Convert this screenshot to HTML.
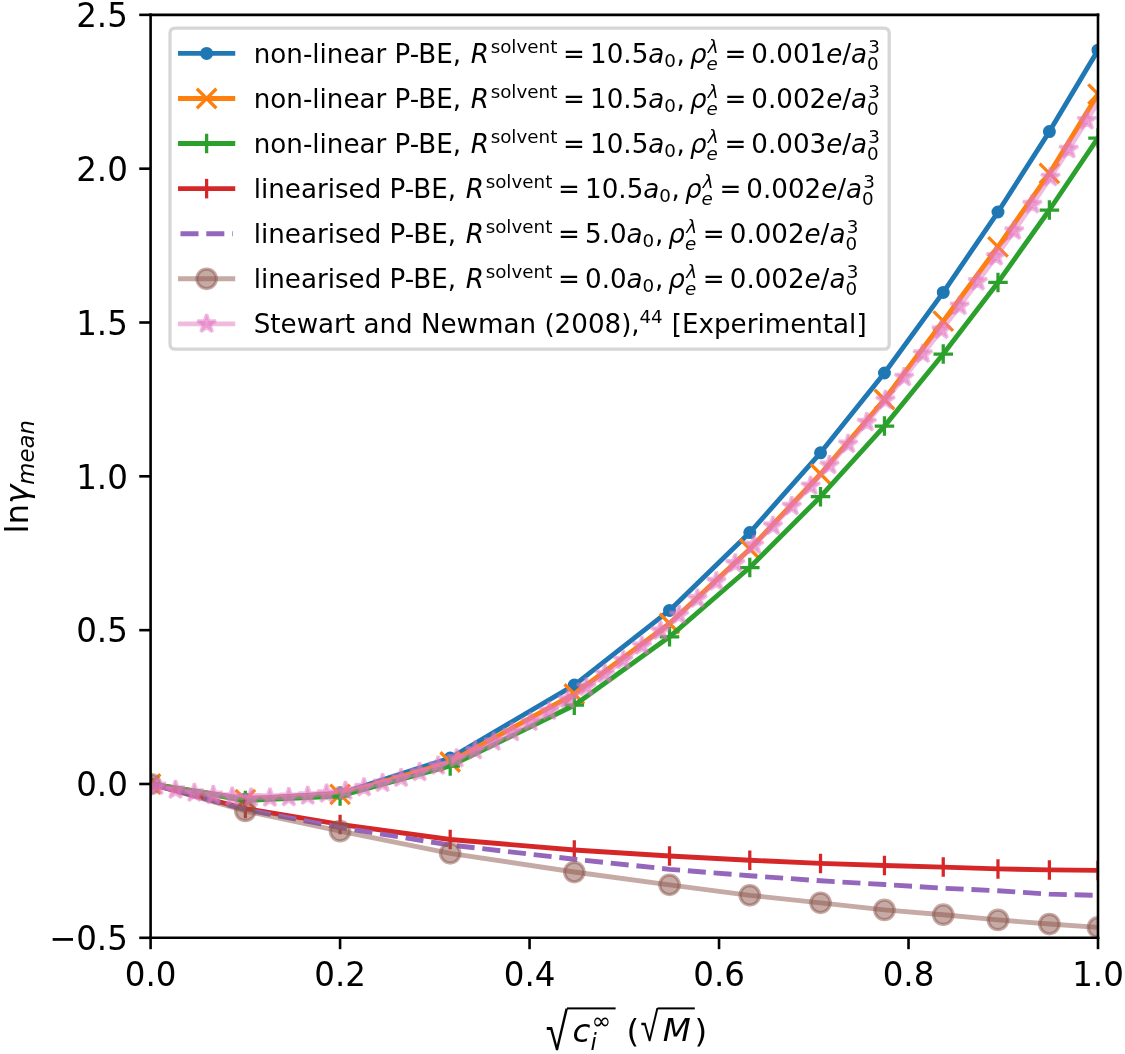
<!DOCTYPE html>
<html><head><meta charset="utf-8"><title>plot</title>
<style>html,body{margin:0;padding:0;background:#fff;}svg{display:block;}svg text{white-space:pre;}</style>
</head><body>
<svg width="1125" height="1054" viewBox="0 0 1125 1054">
<defs>
<style type="text/css">*{stroke-linejoin: round; stroke-linecap: butt}</style>
</defs>
<g id="figure_1">
<g id="patch_1">
<path d="M 0 1054  L 1125 1054  L 1125 0  L 0 0  z " style="fill: #ffffff" />
</g>
<g id="axes_1">
<g id="patch_2">
<path d="M 150.6 937.8  L 1098 937.8  L 1098 14.85  L 150.6 14.85  z " style="fill: #ffffff" />
</g>
<g id="matplotlib.axis_1">
<g id="xtick_1">
<g id="line2d_1">
<g>
<path d="M 0 0  L 0 11.375  " transform="translate(150.6 937.8)" style="stroke: #000000; stroke-width: 2.6" /></g>
</g>
<g id="text_1">
<text style="font-size: 32.5px; font-family: 'DejaVu Sans', 'Liberation Sans', sans-serif; text-anchor: middle" x="150.6" y="985.244922" transform="matrix(1 0 0 1.0380 0 -36.8393)">0.0</text>
</g>
</g>
<g id="xtick_2">
<g id="line2d_2">
<g>
<path d="M 0 0  L 0 11.375  " transform="translate(340.08 937.8)" style="stroke: #000000; stroke-width: 2.6" /></g>
</g>
<g id="text_2">
<text style="font-size: 32.5px; font-family: 'DejaVu Sans', 'Liberation Sans', sans-serif; text-anchor: middle" x="340.08" y="985.244922" transform="matrix(1 0 0 1.0380 0 -36.8393)">0.2</text>
</g>
</g>
<g id="xtick_3">
<g id="line2d_3">
<g>
<path d="M 0 0  L 0 11.375  " transform="translate(529.56 937.8)" style="stroke: #000000; stroke-width: 2.6" /></g>
</g>
<g id="text_3">
<text style="font-size: 32.5px; font-family: 'DejaVu Sans', 'Liberation Sans', sans-serif; text-anchor: middle" x="529.56" y="985.244922" transform="matrix(1 0 0 1.0380 0 -36.8393)">0.4</text>
</g>
</g>
<g id="xtick_4">
<g id="line2d_4">
<g>
<path d="M 0 0  L 0 11.375  " transform="translate(719.04 937.8)" style="stroke: #000000; stroke-width: 2.6" /></g>
</g>
<g id="text_4">
<text style="font-size: 32.5px; font-family: 'DejaVu Sans', 'Liberation Sans', sans-serif; text-anchor: middle" x="719.04" y="985.244922" transform="matrix(1 0 0 1.0380 0 -36.8393)">0.6</text>
</g>
</g>
<g id="xtick_5">
<g id="line2d_5">
<g>
<path d="M 0 0  L 0 11.375  " transform="translate(908.52 937.8)" style="stroke: #000000; stroke-width: 2.6" /></g>
</g>
<g id="text_5">
<text style="font-size: 32.5px; font-family: 'DejaVu Sans', 'Liberation Sans', sans-serif; text-anchor: middle" x="908.52" y="985.244922" transform="matrix(1 0 0 1.0380 0 -36.8393)">0.8</text>
</g>
</g>
<g id="xtick_6">
<g id="line2d_6">
<g>
<path d="M 0 0  L 0 11.375  " transform="translate(1098 937.8)" style="stroke: #000000; stroke-width: 2.6" /></g>
</g>
<g id="text_6">
<text style="font-size: 32.5px; font-family: 'DejaVu Sans', 'Liberation Sans', sans-serif; text-anchor: middle" x="1098" y="985.244922" transform="matrix(1 0 0 1.0380 0 -36.8393)">1.0</text>
</g>
</g>
<g id="text_7">
<g>
<text transform="translate(545.8 1049.6) scale(0.771 1)" style="font-size:52.6px;font-family:'Liberation Sans',sans-serif">√</text>
<rect x="567" y="1007.4" width="48.6" height="2.0" />
<text x="572.5" y="1041.6" style="font-style:oblique;font-size:32.5px;font-family:'DejaVu Sans',sans-serif">c</text>
<text x="591.5" y="1029.3" style="font-size:23.5px;font-family:'DejaVu Sans',sans-serif">∞</text>
<text x="590.4" y="1050.2" style="font-style:oblique;font-size:22.75px;font-family:'DejaVu Sans',sans-serif">i</text>
<text x="626.5" y="1041.8" style="font-size:32.5px;font-family:'DejaVu Sans',sans-serif">(</text>
<text transform="translate(640.4 1040.9) scale(0.789 1)" style="font-size:41.6px;font-family:'Liberation Sans',sans-serif">√</text>
<rect x="657.5" y="1007.4" width="37.3" height="2.0" />
<text x="662.7" y="1041.4" style="font-style:oblique;font-size:32.5px;font-family:'DejaVu Sans',sans-serif">M</text>
<text x="694.6" y="1041.8" style="font-size:32.5px;font-family:'DejaVu Sans',sans-serif">)</text>
</g></g>
</g>
<g id="matplotlib.axis_2">
<g id="ytick_1">
<g id="line2d_7">
<g>
<path d="M 0 0  L -11.375 0  " transform="translate(150.6 937.8)" style="stroke: #000000; stroke-width: 2.6" /></g>
</g>
<g id="text_8">
<text style="font-size: 32.5px; font-family: 'DejaVu Sans', 'Liberation Sans', sans-serif; text-anchor: end" x="127.85" y="950.147461" transform="matrix(1 0 0 1.0380 0 -36.1056)">−0.5</text>
</g>
</g>
<g id="ytick_2">
<g id="line2d_8">
<g>
<path d="M 0 0  L -11.375 0  " transform="translate(150.6 783.975)" style="stroke: #000000; stroke-width: 2.6" /></g>
</g>
<g id="text_9">
<text style="font-size: 32.5px; font-family: 'DejaVu Sans', 'Liberation Sans', sans-serif; text-anchor: end" x="127.85" y="796.322461" transform="matrix(1 0 0 1.0380 0 -30.2603)">0.0</text>
</g>
</g>
<g id="ytick_3">
<g id="line2d_9">
<g>
<path d="M 0 0  L -11.375 0  " transform="translate(150.6 630.15)" style="stroke: #000000; stroke-width: 2.6" /></g>
</g>
<g id="text_10">
<text style="font-size: 32.5px; font-family: 'DejaVu Sans', 'Liberation Sans', sans-serif; text-anchor: end" x="127.85" y="642.497461" transform="matrix(1 0 0 1.0380 0 -24.4149)">0.5</text>
</g>
</g>
<g id="ytick_4">
<g id="line2d_10">
<g>
<path d="M 0 0  L -11.375 0  " transform="translate(150.6 476.325)" style="stroke: #000000; stroke-width: 2.6" /></g>
</g>
<g id="text_11">
<text style="font-size: 32.5px; font-family: 'DejaVu Sans', 'Liberation Sans', sans-serif; text-anchor: end" x="127.85" y="488.672461" transform="matrix(1 0 0 1.0380 0 -18.5696)">1.0</text>
</g>
</g>
<g id="ytick_5">
<g id="line2d_11">
<g>
<path d="M 0 0  L -11.375 0  " transform="translate(150.6 322.5)" style="stroke: #000000; stroke-width: 2.6" /></g>
</g>
<g id="text_12">
<text style="font-size: 32.5px; font-family: 'DejaVu Sans', 'Liberation Sans', sans-serif; text-anchor: end" x="127.85" y="334.847461" transform="matrix(1 0 0 1.0380 0 -12.7242)">1.5</text>
</g>
</g>
<g id="ytick_6">
<g id="line2d_12">
<g>
<path d="M 0 0  L -11.375 0  " transform="translate(150.6 168.675)" style="stroke: #000000; stroke-width: 2.6" /></g>
</g>
<g id="text_13">
<text style="font-size: 32.5px; font-family: 'DejaVu Sans', 'Liberation Sans', sans-serif; text-anchor: end" x="127.85" y="181.022461" transform="matrix(1 0 0 1.0380 0 -6.8789)">2.0</text>
</g>
</g>
<g id="ytick_7">
<g id="line2d_13">
<g>
<path d="M 0 0  L -11.375 0  " transform="translate(150.6 14.85)" style="stroke: #000000; stroke-width: 2.6" /></g>
</g>
<g id="text_14">
<text style="font-size: 32.5px; font-family: 'DejaVu Sans', 'Liberation Sans', sans-serif; text-anchor: end" x="127.85" y="27.197461" transform="matrix(1 0 0 1.0380 0 -1.0335)">2.5</text>
</g>
</g>
<g id="text_15">
<g transform="translate(29.105859 533.525) rotate(-90)">
<text>
<tspan x="0.0000" y="-0.921875" style="font-size: 32.5px; font-family: 'DejaVu Sans', 'Liberation Sans', sans-serif">ln</tspan><tspan x="29.6277" y="-0.921875" style="font-style: oblique; font-size: 32.5px; font-family: 'DejaVu Sans', 'Liberation Sans', sans-serif">γ</tspan><tspan x="48.8611" y="4.492188" style="font-style: oblique; font-size: 22.75px; font-family: 'DejaVu Sans', 'Liberation Sans', sans-serif">mean</tspan></text>
</g>
</g>
</g>
<g id="line2d_14">
<path d="M 150.6 784.005  L 245.34 799.005  L 340.08 793.505  L 450.194186 758.005  L 574.29016 685.105  L 669.512351 610.405  L 749.788371 532.605  L 820.512964 452.805  L 884.452884 373.005  L 943.251709 292.405  L 997.980321 212.005  L 1049.382557 131.605  L 1098 50.205  " clip-path="url(#p19d4a6a60d)" style="fill: none; stroke: #1f77b4; stroke-width: 4.875; stroke-linecap: square" />
<g clip-path="url(#p19d4a6a60d)">
<path d="M 0 4.875  C 1.292865 4.875 2.532952 4.361339 3.447146 3.447146  C 4.361339 2.532952 4.875 1.292865 4.875 0  C 4.875 -1.292865 4.361339 -2.532952 3.447146 -3.447146  C 2.532952 -4.361339 1.292865 -4.875 0 -4.875  C -1.292865 -4.875 -2.532952 -4.361339 -3.447146 -3.447146  C -4.361339 -2.532952 -4.875 -1.292865 -4.875 0  C -4.875 1.292865 -4.361339 2.532952 -3.447146 3.447146  C -2.532952 4.361339 -1.292865 4.875 0 4.875  z " transform="translate(150.6 784.005)" style="fill: #1f77b4; stroke: #1f77b4; stroke-width: 3.25" /><path d="M 0 4.875  C 1.292865 4.875 2.532952 4.361339 3.447146 3.447146  C 4.361339 2.532952 4.875 1.292865 4.875 0  C 4.875 -1.292865 4.361339 -2.532952 3.447146 -3.447146  C 2.532952 -4.361339 1.292865 -4.875 0 -4.875  C -1.292865 -4.875 -2.532952 -4.361339 -3.447146 -3.447146  C -4.361339 -2.532952 -4.875 -1.292865 -4.875 0  C -4.875 1.292865 -4.361339 2.532952 -3.447146 3.447146  C -2.532952 4.361339 -1.292865 4.875 0 4.875  z " transform="translate(245.34 799.005)" style="fill: #1f77b4; stroke: #1f77b4; stroke-width: 3.25" /><path d="M 0 4.875  C 1.292865 4.875 2.532952 4.361339 3.447146 3.447146  C 4.361339 2.532952 4.875 1.292865 4.875 0  C 4.875 -1.292865 4.361339 -2.532952 3.447146 -3.447146  C 2.532952 -4.361339 1.292865 -4.875 0 -4.875  C -1.292865 -4.875 -2.532952 -4.361339 -3.447146 -3.447146  C -4.361339 -2.532952 -4.875 -1.292865 -4.875 0  C -4.875 1.292865 -4.361339 2.532952 -3.447146 3.447146  C -2.532952 4.361339 -1.292865 4.875 0 4.875  z " transform="translate(340.08 793.505)" style="fill: #1f77b4; stroke: #1f77b4; stroke-width: 3.25" /><path d="M 0 4.875  C 1.292865 4.875 2.532952 4.361339 3.447146 3.447146  C 4.361339 2.532952 4.875 1.292865 4.875 0  C 4.875 -1.292865 4.361339 -2.532952 3.447146 -3.447146  C 2.532952 -4.361339 1.292865 -4.875 0 -4.875  C -1.292865 -4.875 -2.532952 -4.361339 -3.447146 -3.447146  C -4.361339 -2.532952 -4.875 -1.292865 -4.875 0  C -4.875 1.292865 -4.361339 2.532952 -3.447146 3.447146  C -2.532952 4.361339 -1.292865 4.875 0 4.875  z " transform="translate(450.194186 758.005)" style="fill: #1f77b4; stroke: #1f77b4; stroke-width: 3.25" /><path d="M 0 4.875  C 1.292865 4.875 2.532952 4.361339 3.447146 3.447146  C 4.361339 2.532952 4.875 1.292865 4.875 0  C 4.875 -1.292865 4.361339 -2.532952 3.447146 -3.447146  C 2.532952 -4.361339 1.292865 -4.875 0 -4.875  C -1.292865 -4.875 -2.532952 -4.361339 -3.447146 -3.447146  C -4.361339 -2.532952 -4.875 -1.292865 -4.875 0  C -4.875 1.292865 -4.361339 2.532952 -3.447146 3.447146  C -2.532952 4.361339 -1.292865 4.875 0 4.875  z " transform="translate(574.29016 685.105)" style="fill: #1f77b4; stroke: #1f77b4; stroke-width: 3.25" /><path d="M 0 4.875  C 1.292865 4.875 2.532952 4.361339 3.447146 3.447146  C 4.361339 2.532952 4.875 1.292865 4.875 0  C 4.875 -1.292865 4.361339 -2.532952 3.447146 -3.447146  C 2.532952 -4.361339 1.292865 -4.875 0 -4.875  C -1.292865 -4.875 -2.532952 -4.361339 -3.447146 -3.447146  C -4.361339 -2.532952 -4.875 -1.292865 -4.875 0  C -4.875 1.292865 -4.361339 2.532952 -3.447146 3.447146  C -2.532952 4.361339 -1.292865 4.875 0 4.875  z " transform="translate(669.512351 610.405)" style="fill: #1f77b4; stroke: #1f77b4; stroke-width: 3.25" /><path d="M 0 4.875  C 1.292865 4.875 2.532952 4.361339 3.447146 3.447146  C 4.361339 2.532952 4.875 1.292865 4.875 0  C 4.875 -1.292865 4.361339 -2.532952 3.447146 -3.447146  C 2.532952 -4.361339 1.292865 -4.875 0 -4.875  C -1.292865 -4.875 -2.532952 -4.361339 -3.447146 -3.447146  C -4.361339 -2.532952 -4.875 -1.292865 -4.875 0  C -4.875 1.292865 -4.361339 2.532952 -3.447146 3.447146  C -2.532952 4.361339 -1.292865 4.875 0 4.875  z " transform="translate(749.788371 532.605)" style="fill: #1f77b4; stroke: #1f77b4; stroke-width: 3.25" /><path d="M 0 4.875  C 1.292865 4.875 2.532952 4.361339 3.447146 3.447146  C 4.361339 2.532952 4.875 1.292865 4.875 0  C 4.875 -1.292865 4.361339 -2.532952 3.447146 -3.447146  C 2.532952 -4.361339 1.292865 -4.875 0 -4.875  C -1.292865 -4.875 -2.532952 -4.361339 -3.447146 -3.447146  C -4.361339 -2.532952 -4.875 -1.292865 -4.875 0  C -4.875 1.292865 -4.361339 2.532952 -3.447146 3.447146  C -2.532952 4.361339 -1.292865 4.875 0 4.875  z " transform="translate(820.512964 452.805)" style="fill: #1f77b4; stroke: #1f77b4; stroke-width: 3.25" /><path d="M 0 4.875  C 1.292865 4.875 2.532952 4.361339 3.447146 3.447146  C 4.361339 2.532952 4.875 1.292865 4.875 0  C 4.875 -1.292865 4.361339 -2.532952 3.447146 -3.447146  C 2.532952 -4.361339 1.292865 -4.875 0 -4.875  C -1.292865 -4.875 -2.532952 -4.361339 -3.447146 -3.447146  C -4.361339 -2.532952 -4.875 -1.292865 -4.875 0  C -4.875 1.292865 -4.361339 2.532952 -3.447146 3.447146  C -2.532952 4.361339 -1.292865 4.875 0 4.875  z " transform="translate(884.452884 373.005)" style="fill: #1f77b4; stroke: #1f77b4; stroke-width: 3.25" /><path d="M 0 4.875  C 1.292865 4.875 2.532952 4.361339 3.447146 3.447146  C 4.361339 2.532952 4.875 1.292865 4.875 0  C 4.875 -1.292865 4.361339 -2.532952 3.447146 -3.447146  C 2.532952 -4.361339 1.292865 -4.875 0 -4.875  C -1.292865 -4.875 -2.532952 -4.361339 -3.447146 -3.447146  C -4.361339 -2.532952 -4.875 -1.292865 -4.875 0  C -4.875 1.292865 -4.361339 2.532952 -3.447146 3.447146  C -2.532952 4.361339 -1.292865 4.875 0 4.875  z " transform="translate(943.251709 292.405)" style="fill: #1f77b4; stroke: #1f77b4; stroke-width: 3.25" /><path d="M 0 4.875  C 1.292865 4.875 2.532952 4.361339 3.447146 3.447146  C 4.361339 2.532952 4.875 1.292865 4.875 0  C 4.875 -1.292865 4.361339 -2.532952 3.447146 -3.447146  C 2.532952 -4.361339 1.292865 -4.875 0 -4.875  C -1.292865 -4.875 -2.532952 -4.361339 -3.447146 -3.447146  C -4.361339 -2.532952 -4.875 -1.292865 -4.875 0  C -4.875 1.292865 -4.361339 2.532952 -3.447146 3.447146  C -2.532952 4.361339 -1.292865 4.875 0 4.875  z " transform="translate(997.980321 212.005)" style="fill: #1f77b4; stroke: #1f77b4; stroke-width: 3.25" /><path d="M 0 4.875  C 1.292865 4.875 2.532952 4.361339 3.447146 3.447146  C 4.361339 2.532952 4.875 1.292865 4.875 0  C 4.875 -1.292865 4.361339 -2.532952 3.447146 -3.447146  C 2.532952 -4.361339 1.292865 -4.875 0 -4.875  C -1.292865 -4.875 -2.532952 -4.361339 -3.447146 -3.447146  C -4.361339 -2.532952 -4.875 -1.292865 -4.875 0  C -4.875 1.292865 -4.361339 2.532952 -3.447146 3.447146  C -2.532952 4.361339 -1.292865 4.875 0 4.875  z " transform="translate(1049.382557 131.605)" style="fill: #1f77b4; stroke: #1f77b4; stroke-width: 3.25" /><path d="M 0 4.875  C 1.292865 4.875 2.532952 4.361339 3.447146 3.447146  C 4.361339 2.532952 4.875 1.292865 4.875 0  C 4.875 -1.292865 4.361339 -2.532952 3.447146 -3.447146  C 2.532952 -4.361339 1.292865 -4.875 0 -4.875  C -1.292865 -4.875 -2.532952 -4.361339 -3.447146 -3.447146  C -4.361339 -2.532952 -4.875 -1.292865 -4.875 0  C -4.875 1.292865 -4.361339 2.532952 -3.447146 3.447146  C -2.532952 4.361339 -1.292865 4.875 0 4.875  z " transform="translate(1098 50.205)" style="fill: #1f77b4; stroke: #1f77b4; stroke-width: 3.25" /></g>
</g>
<g id="line2d_15">
<path d="M 150.6 784.005  L 245.34 799.705  L 340.08 794.305  L 450.194186 762.005  L 574.29016 694.005  L 669.512351 623.505  L 749.788371 549.005  L 820.512964 474.005  L 884.452884 399.505  L 943.251709 321.205  L 997.980321 246.805  L 1049.382557 173.405  L 1098 94.105  " clip-path="url(#p19d4a6a60d)" style="fill: none; stroke: #ff7f0e; stroke-width: 4.875; stroke-linecap: square" />
<g clip-path="url(#p19d4a6a60d)">
<path d="M -9.75 9.75  L 9.75 -9.75  M -9.75 -9.75  L 9.75 9.75  " transform="translate(150.6 784.005)" style="fill: #ff7f0e; stroke: #ff7f0e; stroke-width: 3.25" /><path d="M -9.75 9.75  L 9.75 -9.75  M -9.75 -9.75  L 9.75 9.75  " transform="translate(245.34 799.705)" style="fill: #ff7f0e; stroke: #ff7f0e; stroke-width: 3.25" /><path d="M -9.75 9.75  L 9.75 -9.75  M -9.75 -9.75  L 9.75 9.75  " transform="translate(340.08 794.305)" style="fill: #ff7f0e; stroke: #ff7f0e; stroke-width: 3.25" /><path d="M -9.75 9.75  L 9.75 -9.75  M -9.75 -9.75  L 9.75 9.75  " transform="translate(450.194186 762.005)" style="fill: #ff7f0e; stroke: #ff7f0e; stroke-width: 3.25" /><path d="M -9.75 9.75  L 9.75 -9.75  M -9.75 -9.75  L 9.75 9.75  " transform="translate(574.29016 694.005)" style="fill: #ff7f0e; stroke: #ff7f0e; stroke-width: 3.25" /><path d="M -9.75 9.75  L 9.75 -9.75  M -9.75 -9.75  L 9.75 9.75  " transform="translate(669.512351 623.505)" style="fill: #ff7f0e; stroke: #ff7f0e; stroke-width: 3.25" /><path d="M -9.75 9.75  L 9.75 -9.75  M -9.75 -9.75  L 9.75 9.75  " transform="translate(749.788371 549.005)" style="fill: #ff7f0e; stroke: #ff7f0e; stroke-width: 3.25" /><path d="M -9.75 9.75  L 9.75 -9.75  M -9.75 -9.75  L 9.75 9.75  " transform="translate(820.512964 474.005)" style="fill: #ff7f0e; stroke: #ff7f0e; stroke-width: 3.25" /><path d="M -9.75 9.75  L 9.75 -9.75  M -9.75 -9.75  L 9.75 9.75  " transform="translate(884.452884 399.505)" style="fill: #ff7f0e; stroke: #ff7f0e; stroke-width: 3.25" /><path d="M -9.75 9.75  L 9.75 -9.75  M -9.75 -9.75  L 9.75 9.75  " transform="translate(943.251709 321.205)" style="fill: #ff7f0e; stroke: #ff7f0e; stroke-width: 3.25" /><path d="M -9.75 9.75  L 9.75 -9.75  M -9.75 -9.75  L 9.75 9.75  " transform="translate(997.980321 246.805)" style="fill: #ff7f0e; stroke: #ff7f0e; stroke-width: 3.25" /><path d="M -9.75 9.75  L 9.75 -9.75  M -9.75 -9.75  L 9.75 9.75  " transform="translate(1049.382557 173.405)" style="fill: #ff7f0e; stroke: #ff7f0e; stroke-width: 3.25" /><path d="M -9.75 9.75  L 9.75 -9.75  M -9.75 -9.75  L 9.75 9.75  " transform="translate(1098 94.105)" style="fill: #ff7f0e; stroke: #ff7f0e; stroke-width: 3.25" /></g>
</g>
<g id="line2d_16">
<path d="M 150.6 784.005  L 245.34 800.605  L 340.08 796.005  L 450.194186 766.005  L 574.29016 705.205  L 669.512351 636.805  L 749.788371 567.505  L 820.512964 496.705  L 884.452884 426.105  L 943.251709 354.005  L 997.980321 282.405  L 1049.382557 210.005  L 1098 138.005  " clip-path="url(#p19d4a6a60d)" style="fill: none; stroke: #2ca02c; stroke-width: 4.875; stroke-linecap: square" />
<g clip-path="url(#p19d4a6a60d)">
<path d="M -9.75 0  L 9.75 0  M 0 9.75  L 0 -9.75  " transform="translate(150.6 784.005)" style="fill: #2ca02c; stroke: #2ca02c; stroke-width: 3.25" /><path d="M -9.75 0  L 9.75 0  M 0 9.75  L 0 -9.75  " transform="translate(245.34 800.605)" style="fill: #2ca02c; stroke: #2ca02c; stroke-width: 3.25" /><path d="M -9.75 0  L 9.75 0  M 0 9.75  L 0 -9.75  " transform="translate(340.08 796.005)" style="fill: #2ca02c; stroke: #2ca02c; stroke-width: 3.25" /><path d="M -9.75 0  L 9.75 0  M 0 9.75  L 0 -9.75  " transform="translate(450.194186 766.005)" style="fill: #2ca02c; stroke: #2ca02c; stroke-width: 3.25" /><path d="M -9.75 0  L 9.75 0  M 0 9.75  L 0 -9.75  " transform="translate(574.29016 705.205)" style="fill: #2ca02c; stroke: #2ca02c; stroke-width: 3.25" /><path d="M -9.75 0  L 9.75 0  M 0 9.75  L 0 -9.75  " transform="translate(669.512351 636.805)" style="fill: #2ca02c; stroke: #2ca02c; stroke-width: 3.25" /><path d="M -9.75 0  L 9.75 0  M 0 9.75  L 0 -9.75  " transform="translate(749.788371 567.505)" style="fill: #2ca02c; stroke: #2ca02c; stroke-width: 3.25" /><path d="M -9.75 0  L 9.75 0  M 0 9.75  L 0 -9.75  " transform="translate(820.512964 496.705)" style="fill: #2ca02c; stroke: #2ca02c; stroke-width: 3.25" /><path d="M -9.75 0  L 9.75 0  M 0 9.75  L 0 -9.75  " transform="translate(884.452884 426.105)" style="fill: #2ca02c; stroke: #2ca02c; stroke-width: 3.25" /><path d="M -9.75 0  L 9.75 0  M 0 9.75  L 0 -9.75  " transform="translate(943.251709 354.005)" style="fill: #2ca02c; stroke: #2ca02c; stroke-width: 3.25" /><path d="M -9.75 0  L 9.75 0  M 0 9.75  L 0 -9.75  " transform="translate(997.980321 282.405)" style="fill: #2ca02c; stroke: #2ca02c; stroke-width: 3.25" /><path d="M -9.75 0  L 9.75 0  M 0 9.75  L 0 -9.75  " transform="translate(1049.382557 210.005)" style="fill: #2ca02c; stroke: #2ca02c; stroke-width: 3.25" /><path d="M -9.75 0  L 9.75 0  M 0 9.75  L 0 -9.75  " transform="translate(1098 138.005)" style="fill: #2ca02c; stroke: #2ca02c; stroke-width: 3.25" /></g>
</g>
<g id="line2d_17">
<path d="M 150.6 784.005  L 245.34 808.605  L 340.08 824.405  L 450.194186 839.505  L 574.29016 850.005  L 669.512351 856.005  L 749.788371 860.205  L 820.512964 863.405  L 884.452884 865.505  L 943.251709 867.105  L 997.980321 868.905  L 1049.382557 869.905  L 1098 870.405  " clip-path="url(#p19d4a6a60d)" style="fill: none; stroke: #d62728; stroke-width: 4.875; stroke-linecap: square" />
<g clip-path="url(#p19d4a6a60d)">
<path d="M 0 9.75  L 0 -9.75  " transform="translate(150.6 784.005)" style="fill: #d62728; stroke: #d62728; stroke-width: 3.25" /><path d="M 0 9.75  L 0 -9.75  " transform="translate(245.34 808.605)" style="fill: #d62728; stroke: #d62728; stroke-width: 3.25" /><path d="M 0 9.75  L 0 -9.75  " transform="translate(340.08 824.405)" style="fill: #d62728; stroke: #d62728; stroke-width: 3.25" /><path d="M 0 9.75  L 0 -9.75  " transform="translate(450.194186 839.505)" style="fill: #d62728; stroke: #d62728; stroke-width: 3.25" /><path d="M 0 9.75  L 0 -9.75  " transform="translate(574.29016 850.005)" style="fill: #d62728; stroke: #d62728; stroke-width: 3.25" /><path d="M 0 9.75  L 0 -9.75  " transform="translate(669.512351 856.005)" style="fill: #d62728; stroke: #d62728; stroke-width: 3.25" /><path d="M 0 9.75  L 0 -9.75  " transform="translate(749.788371 860.205)" style="fill: #d62728; stroke: #d62728; stroke-width: 3.25" /><path d="M 0 9.75  L 0 -9.75  " transform="translate(820.512964 863.405)" style="fill: #d62728; stroke: #d62728; stroke-width: 3.25" /><path d="M 0 9.75  L 0 -9.75  " transform="translate(884.452884 865.505)" style="fill: #d62728; stroke: #d62728; stroke-width: 3.25" /><path d="M 0 9.75  L 0 -9.75  " transform="translate(943.251709 867.105)" style="fill: #d62728; stroke: #d62728; stroke-width: 3.25" /><path d="M 0 9.75  L 0 -9.75  " transform="translate(997.980321 868.905)" style="fill: #d62728; stroke: #d62728; stroke-width: 3.25" /><path d="M 0 9.75  L 0 -9.75  " transform="translate(1049.382557 869.905)" style="fill: #d62728; stroke: #d62728; stroke-width: 3.25" /><path d="M 0 9.75  L 0 -9.75  " transform="translate(1098 870.405)" style="fill: #d62728; stroke: #d62728; stroke-width: 3.25" /></g>
</g>
<g id="line2d_18">
<path d="M 150.6 784.005  L 245.34 809.505  L 340.08 827.505  L 450.194186 845.005  L 574.29016 859.205  L 669.512351 869.305  L 749.788371 875.705  L 820.512964 880.805  L 884.452884 884.505  L 943.251709 888.205  L 997.980321 890.805  L 1049.382557 894.105  L 1098 895.405  " clip-path="url(#p19d4a6a60d)" style="fill: none; stroke-dasharray: 18.0375,7.8; stroke-dashoffset: -2.5; stroke: #9467bd; stroke-width: 4.875" />
</g>
<g id="line2d_19">
<path d="M 150.6 784.005  L 245.34 810.905  L 340.08 831.205  L 450.194186 853.305  L 574.29016 872.005  L 669.512351 884.805  L 749.788371 895.305  L 820.512964 902.805  L 884.452884 909.905  L 943.251709 914.705  L 997.980321 919.905  L 1049.382557 924.005  L 1098 927.405  " clip-path="url(#p19d4a6a60d)" style="fill: none; stroke: #8c564b; stroke-opacity: 0.5; stroke-width: 4.875; stroke-linecap: square" />
<g clip-path="url(#p19d4a6a60d)">
<path d="M 0 9.75  C 2.58573 9.75 5.065904 8.722678 6.894291 6.894291  C 8.722678 5.065904 9.75 2.58573 9.75 0  C 9.75 -2.58573 8.722678 -5.065904 6.894291 -6.894291  C 5.065904 -8.722678 2.58573 -9.75 0 -9.75  C -2.58573 -9.75 -5.065904 -8.722678 -6.894291 -6.894291  C -8.722678 -5.065904 -9.75 -2.58573 -9.75 0  C -9.75 2.58573 -8.722678 5.065904 -6.894291 6.894291  C -5.065904 8.722678 -2.58573 9.75 0 9.75  z " transform="translate(150.6 784.005)" style="fill: #8c564b; fill-opacity: 0.5; stroke: #8c564b; stroke-opacity: 0.5; stroke-width: 3.25" /><path d="M 0 9.75  C 2.58573 9.75 5.065904 8.722678 6.894291 6.894291  C 8.722678 5.065904 9.75 2.58573 9.75 0  C 9.75 -2.58573 8.722678 -5.065904 6.894291 -6.894291  C 5.065904 -8.722678 2.58573 -9.75 0 -9.75  C -2.58573 -9.75 -5.065904 -8.722678 -6.894291 -6.894291  C -8.722678 -5.065904 -9.75 -2.58573 -9.75 0  C -9.75 2.58573 -8.722678 5.065904 -6.894291 6.894291  C -5.065904 8.722678 -2.58573 9.75 0 9.75  z " transform="translate(245.34 810.905)" style="fill: #8c564b; fill-opacity: 0.5; stroke: #8c564b; stroke-opacity: 0.5; stroke-width: 3.25" /><path d="M 0 9.75  C 2.58573 9.75 5.065904 8.722678 6.894291 6.894291  C 8.722678 5.065904 9.75 2.58573 9.75 0  C 9.75 -2.58573 8.722678 -5.065904 6.894291 -6.894291  C 5.065904 -8.722678 2.58573 -9.75 0 -9.75  C -2.58573 -9.75 -5.065904 -8.722678 -6.894291 -6.894291  C -8.722678 -5.065904 -9.75 -2.58573 -9.75 0  C -9.75 2.58573 -8.722678 5.065904 -6.894291 6.894291  C -5.065904 8.722678 -2.58573 9.75 0 9.75  z " transform="translate(340.08 831.205)" style="fill: #8c564b; fill-opacity: 0.5; stroke: #8c564b; stroke-opacity: 0.5; stroke-width: 3.25" /><path d="M 0 9.75  C 2.58573 9.75 5.065904 8.722678 6.894291 6.894291  C 8.722678 5.065904 9.75 2.58573 9.75 0  C 9.75 -2.58573 8.722678 -5.065904 6.894291 -6.894291  C 5.065904 -8.722678 2.58573 -9.75 0 -9.75  C -2.58573 -9.75 -5.065904 -8.722678 -6.894291 -6.894291  C -8.722678 -5.065904 -9.75 -2.58573 -9.75 0  C -9.75 2.58573 -8.722678 5.065904 -6.894291 6.894291  C -5.065904 8.722678 -2.58573 9.75 0 9.75  z " transform="translate(450.194186 853.305)" style="fill: #8c564b; fill-opacity: 0.5; stroke: #8c564b; stroke-opacity: 0.5; stroke-width: 3.25" /><path d="M 0 9.75  C 2.58573 9.75 5.065904 8.722678 6.894291 6.894291  C 8.722678 5.065904 9.75 2.58573 9.75 0  C 9.75 -2.58573 8.722678 -5.065904 6.894291 -6.894291  C 5.065904 -8.722678 2.58573 -9.75 0 -9.75  C -2.58573 -9.75 -5.065904 -8.722678 -6.894291 -6.894291  C -8.722678 -5.065904 -9.75 -2.58573 -9.75 0  C -9.75 2.58573 -8.722678 5.065904 -6.894291 6.894291  C -5.065904 8.722678 -2.58573 9.75 0 9.75  z " transform="translate(574.29016 872.005)" style="fill: #8c564b; fill-opacity: 0.5; stroke: #8c564b; stroke-opacity: 0.5; stroke-width: 3.25" /><path d="M 0 9.75  C 2.58573 9.75 5.065904 8.722678 6.894291 6.894291  C 8.722678 5.065904 9.75 2.58573 9.75 0  C 9.75 -2.58573 8.722678 -5.065904 6.894291 -6.894291  C 5.065904 -8.722678 2.58573 -9.75 0 -9.75  C -2.58573 -9.75 -5.065904 -8.722678 -6.894291 -6.894291  C -8.722678 -5.065904 -9.75 -2.58573 -9.75 0  C -9.75 2.58573 -8.722678 5.065904 -6.894291 6.894291  C -5.065904 8.722678 -2.58573 9.75 0 9.75  z " transform="translate(669.512351 884.805)" style="fill: #8c564b; fill-opacity: 0.5; stroke: #8c564b; stroke-opacity: 0.5; stroke-width: 3.25" /><path d="M 0 9.75  C 2.58573 9.75 5.065904 8.722678 6.894291 6.894291  C 8.722678 5.065904 9.75 2.58573 9.75 0  C 9.75 -2.58573 8.722678 -5.065904 6.894291 -6.894291  C 5.065904 -8.722678 2.58573 -9.75 0 -9.75  C -2.58573 -9.75 -5.065904 -8.722678 -6.894291 -6.894291  C -8.722678 -5.065904 -9.75 -2.58573 -9.75 0  C -9.75 2.58573 -8.722678 5.065904 -6.894291 6.894291  C -5.065904 8.722678 -2.58573 9.75 0 9.75  z " transform="translate(749.788371 895.305)" style="fill: #8c564b; fill-opacity: 0.5; stroke: #8c564b; stroke-opacity: 0.5; stroke-width: 3.25" /><path d="M 0 9.75  C 2.58573 9.75 5.065904 8.722678 6.894291 6.894291  C 8.722678 5.065904 9.75 2.58573 9.75 0  C 9.75 -2.58573 8.722678 -5.065904 6.894291 -6.894291  C 5.065904 -8.722678 2.58573 -9.75 0 -9.75  C -2.58573 -9.75 -5.065904 -8.722678 -6.894291 -6.894291  C -8.722678 -5.065904 -9.75 -2.58573 -9.75 0  C -9.75 2.58573 -8.722678 5.065904 -6.894291 6.894291  C -5.065904 8.722678 -2.58573 9.75 0 9.75  z " transform="translate(820.512964 902.805)" style="fill: #8c564b; fill-opacity: 0.5; stroke: #8c564b; stroke-opacity: 0.5; stroke-width: 3.25" /><path d="M 0 9.75  C 2.58573 9.75 5.065904 8.722678 6.894291 6.894291  C 8.722678 5.065904 9.75 2.58573 9.75 0  C 9.75 -2.58573 8.722678 -5.065904 6.894291 -6.894291  C 5.065904 -8.722678 2.58573 -9.75 0 -9.75  C -2.58573 -9.75 -5.065904 -8.722678 -6.894291 -6.894291  C -8.722678 -5.065904 -9.75 -2.58573 -9.75 0  C -9.75 2.58573 -8.722678 5.065904 -6.894291 6.894291  C -5.065904 8.722678 -2.58573 9.75 0 9.75  z " transform="translate(884.452884 909.905)" style="fill: #8c564b; fill-opacity: 0.5; stroke: #8c564b; stroke-opacity: 0.5; stroke-width: 3.25" /><path d="M 0 9.75  C 2.58573 9.75 5.065904 8.722678 6.894291 6.894291  C 8.722678 5.065904 9.75 2.58573 9.75 0  C 9.75 -2.58573 8.722678 -5.065904 6.894291 -6.894291  C 5.065904 -8.722678 2.58573 -9.75 0 -9.75  C -2.58573 -9.75 -5.065904 -8.722678 -6.894291 -6.894291  C -8.722678 -5.065904 -9.75 -2.58573 -9.75 0  C -9.75 2.58573 -8.722678 5.065904 -6.894291 6.894291  C -5.065904 8.722678 -2.58573 9.75 0 9.75  z " transform="translate(943.251709 914.705)" style="fill: #8c564b; fill-opacity: 0.5; stroke: #8c564b; stroke-opacity: 0.5; stroke-width: 3.25" /><path d="M 0 9.75  C 2.58573 9.75 5.065904 8.722678 6.894291 6.894291  C 8.722678 5.065904 9.75 2.58573 9.75 0  C 9.75 -2.58573 8.722678 -5.065904 6.894291 -6.894291  C 5.065904 -8.722678 2.58573 -9.75 0 -9.75  C -2.58573 -9.75 -5.065904 -8.722678 -6.894291 -6.894291  C -8.722678 -5.065904 -9.75 -2.58573 -9.75 0  C -9.75 2.58573 -8.722678 5.065904 -6.894291 6.894291  C -5.065904 8.722678 -2.58573 9.75 0 9.75  z " transform="translate(997.980321 919.905)" style="fill: #8c564b; fill-opacity: 0.5; stroke: #8c564b; stroke-opacity: 0.5; stroke-width: 3.25" /><path d="M 0 9.75  C 2.58573 9.75 5.065904 8.722678 6.894291 6.894291  C 8.722678 5.065904 9.75 2.58573 9.75 0  C 9.75 -2.58573 8.722678 -5.065904 6.894291 -6.894291  C 5.065904 -8.722678 2.58573 -9.75 0 -9.75  C -2.58573 -9.75 -5.065904 -8.722678 -6.894291 -6.894291  C -8.722678 -5.065904 -9.75 -2.58573 -9.75 0  C -9.75 2.58573 -8.722678 5.065904 -6.894291 6.894291  C -5.065904 8.722678 -2.58573 9.75 0 9.75  z " transform="translate(1049.382557 924.005)" style="fill: #8c564b; fill-opacity: 0.5; stroke: #8c564b; stroke-opacity: 0.5; stroke-width: 3.25" /><path d="M 0 9.75  C 2.58573 9.75 5.065904 8.722678 6.894291 6.894291  C 8.722678 5.065904 9.75 2.58573 9.75 0  C 9.75 -2.58573 8.722678 -5.065904 6.894291 -6.894291  C 5.065904 -8.722678 2.58573 -9.75 0 -9.75  C -2.58573 -9.75 -5.065904 -8.722678 -6.894291 -6.894291  C -8.722678 -5.065904 -9.75 -2.58573 -9.75 0  C -9.75 2.58573 -8.722678 5.065904 -6.894291 6.894291  C -5.065904 8.722678 -2.58573 9.75 0 9.75  z " transform="translate(1098 927.405)" style="fill: #8c564b; fill-opacity: 0.5; stroke: #8c564b; stroke-opacity: 0.5; stroke-width: 3.25" /></g>
</g>
<g id="line2d_20">
<path d="M 156.6 786.159313  L 175.49 789.884368  L 194.38 792.906886  L 213.27 795.22125  L 232.16 796.820779  L 251.05 797.698067  L 269.94 797.845309  L 288.83 797.254599  L 307.72 795.918202  L 326.61 793.8288  L 345.5 790.979721  L 364.026316 787.441978  L 382.552632 783.163356  L 401.078947 778.14037  L 419.605263 772.370723  L 438.131579 765.853396  L 456.657895 758.588718  L 475.184211 750.578411  L 493.710526 741.825616  L 512.236842 732.334898  L 530.763158 722.112223  L 549.289474 711.164918  L 567.815789 699.501613  L 586.342105 687.132146  L 604.868421 674.067464  L 623.394737 660.319491  L 641.921053 645.900973  L 660.447368 630.825313  L 678.973684 615.106364  L 697.5 598.758223  L 716.357143 581.486562  L 735.214286 563.592217  L 754.071429 545.089174  L 772.928571 525.990495  L 791.785714 506.307953  L 810.642857 486.05165  L 829.5 465.229613  L 848.166667 444.066126  L 866.833333 422.356168  L 885.5 400.098915  L 904.166667 377.289754  L 922.833333 353.919779  L 941.5 329.975261  L 959.6625 306.107854  L 977.825 281.655479  L 995.9875 256.589301  L 1014.15 230.8741  L 1032.3125 204.467708  L 1050.475 177.320434  L 1068.6375 149.374466  L 1086.8 120.56325  L 1107.474 86.617945  " clip-path="url(#p19d4a6a60d)" style="fill: none; stroke: #e377c2; stroke-opacity: 0.5; stroke-width: 4.875; stroke-linecap: square" />
<g clip-path="url(#p19d4a6a60d)">
<path d="M 0 -9.75  L -2.189011 -3.012916  L -9.272801 -3.012916  L -3.541895 1.150831  L -5.730906 7.887916  L -0 3.724169  L 5.730906 7.887916  L 3.541895 1.150831  L 9.272801 -3.012916  L 2.189011 -3.012916  z " transform="translate(156.6 786.159313)" style="fill: #e377c2; fill-opacity: 0.5; stroke: #e377c2; stroke-opacity: 0.5; stroke-width: 3.25; stroke-linejoin: bevel" /><path d="M 0 -9.75  L -2.189011 -3.012916  L -9.272801 -3.012916  L -3.541895 1.150831  L -5.730906 7.887916  L -0 3.724169  L 5.730906 7.887916  L 3.541895 1.150831  L 9.272801 -3.012916  L 2.189011 -3.012916  z " transform="translate(175.49 789.884368)" style="fill: #e377c2; fill-opacity: 0.5; stroke: #e377c2; stroke-opacity: 0.5; stroke-width: 3.25; stroke-linejoin: bevel" /><path d="M 0 -9.75  L -2.189011 -3.012916  L -9.272801 -3.012916  L -3.541895 1.150831  L -5.730906 7.887916  L -0 3.724169  L 5.730906 7.887916  L 3.541895 1.150831  L 9.272801 -3.012916  L 2.189011 -3.012916  z " transform="translate(194.38 792.906886)" style="fill: #e377c2; fill-opacity: 0.5; stroke: #e377c2; stroke-opacity: 0.5; stroke-width: 3.25; stroke-linejoin: bevel" /><path d="M 0 -9.75  L -2.189011 -3.012916  L -9.272801 -3.012916  L -3.541895 1.150831  L -5.730906 7.887916  L -0 3.724169  L 5.730906 7.887916  L 3.541895 1.150831  L 9.272801 -3.012916  L 2.189011 -3.012916  z " transform="translate(213.27 795.22125)" style="fill: #e377c2; fill-opacity: 0.5; stroke: #e377c2; stroke-opacity: 0.5; stroke-width: 3.25; stroke-linejoin: bevel" /><path d="M 0 -9.75  L -2.189011 -3.012916  L -9.272801 -3.012916  L -3.541895 1.150831  L -5.730906 7.887916  L -0 3.724169  L 5.730906 7.887916  L 3.541895 1.150831  L 9.272801 -3.012916  L 2.189011 -3.012916  z " transform="translate(232.16 796.820779)" style="fill: #e377c2; fill-opacity: 0.5; stroke: #e377c2; stroke-opacity: 0.5; stroke-width: 3.25; stroke-linejoin: bevel" /><path d="M 0 -9.75  L -2.189011 -3.012916  L -9.272801 -3.012916  L -3.541895 1.150831  L -5.730906 7.887916  L -0 3.724169  L 5.730906 7.887916  L 3.541895 1.150831  L 9.272801 -3.012916  L 2.189011 -3.012916  z " transform="translate(251.05 797.698067)" style="fill: #e377c2; fill-opacity: 0.5; stroke: #e377c2; stroke-opacity: 0.5; stroke-width: 3.25; stroke-linejoin: bevel" /><path d="M 0 -9.75  L -2.189011 -3.012916  L -9.272801 -3.012916  L -3.541895 1.150831  L -5.730906 7.887916  L -0 3.724169  L 5.730906 7.887916  L 3.541895 1.150831  L 9.272801 -3.012916  L 2.189011 -3.012916  z " transform="translate(269.94 797.845309)" style="fill: #e377c2; fill-opacity: 0.5; stroke: #e377c2; stroke-opacity: 0.5; stroke-width: 3.25; stroke-linejoin: bevel" /><path d="M 0 -9.75  L -2.189011 -3.012916  L -9.272801 -3.012916  L -3.541895 1.150831  L -5.730906 7.887916  L -0 3.724169  L 5.730906 7.887916  L 3.541895 1.150831  L 9.272801 -3.012916  L 2.189011 -3.012916  z " transform="translate(288.83 797.254599)" style="fill: #e377c2; fill-opacity: 0.5; stroke: #e377c2; stroke-opacity: 0.5; stroke-width: 3.25; stroke-linejoin: bevel" /><path d="M 0 -9.75  L -2.189011 -3.012916  L -9.272801 -3.012916  L -3.541895 1.150831  L -5.730906 7.887916  L -0 3.724169  L 5.730906 7.887916  L 3.541895 1.150831  L 9.272801 -3.012916  L 2.189011 -3.012916  z " transform="translate(307.72 795.918202)" style="fill: #e377c2; fill-opacity: 0.5; stroke: #e377c2; stroke-opacity: 0.5; stroke-width: 3.25; stroke-linejoin: bevel" /><path d="M 0 -9.75  L -2.189011 -3.012916  L -9.272801 -3.012916  L -3.541895 1.150831  L -5.730906 7.887916  L -0 3.724169  L 5.730906 7.887916  L 3.541895 1.150831  L 9.272801 -3.012916  L 2.189011 -3.012916  z " transform="translate(326.61 793.8288)" style="fill: #e377c2; fill-opacity: 0.5; stroke: #e377c2; stroke-opacity: 0.5; stroke-width: 3.25; stroke-linejoin: bevel" /><path d="M 0 -9.75  L -2.189011 -3.012916  L -9.272801 -3.012916  L -3.541895 1.150831  L -5.730906 7.887916  L -0 3.724169  L 5.730906 7.887916  L 3.541895 1.150831  L 9.272801 -3.012916  L 2.189011 -3.012916  z " transform="translate(345.5 790.979721)" style="fill: #e377c2; fill-opacity: 0.5; stroke: #e377c2; stroke-opacity: 0.5; stroke-width: 3.25; stroke-linejoin: bevel" /><path d="M 0 -9.75  L -2.189011 -3.012916  L -9.272801 -3.012916  L -3.541895 1.150831  L -5.730906 7.887916  L -0 3.724169  L 5.730906 7.887916  L 3.541895 1.150831  L 9.272801 -3.012916  L 2.189011 -3.012916  z " transform="translate(364.026316 787.441978)" style="fill: #e377c2; fill-opacity: 0.5; stroke: #e377c2; stroke-opacity: 0.5; stroke-width: 3.25; stroke-linejoin: bevel" /><path d="M 0 -9.75  L -2.189011 -3.012916  L -9.272801 -3.012916  L -3.541895 1.150831  L -5.730906 7.887916  L -0 3.724169  L 5.730906 7.887916  L 3.541895 1.150831  L 9.272801 -3.012916  L 2.189011 -3.012916  z " transform="translate(382.552632 783.163356)" style="fill: #e377c2; fill-opacity: 0.5; stroke: #e377c2; stroke-opacity: 0.5; stroke-width: 3.25; stroke-linejoin: bevel" /><path d="M 0 -9.75  L -2.189011 -3.012916  L -9.272801 -3.012916  L -3.541895 1.150831  L -5.730906 7.887916  L -0 3.724169  L 5.730906 7.887916  L 3.541895 1.150831  L 9.272801 -3.012916  L 2.189011 -3.012916  z " transform="translate(401.078947 778.14037)" style="fill: #e377c2; fill-opacity: 0.5; stroke: #e377c2; stroke-opacity: 0.5; stroke-width: 3.25; stroke-linejoin: bevel" /><path d="M 0 -9.75  L -2.189011 -3.012916  L -9.272801 -3.012916  L -3.541895 1.150831  L -5.730906 7.887916  L -0 3.724169  L 5.730906 7.887916  L 3.541895 1.150831  L 9.272801 -3.012916  L 2.189011 -3.012916  z " transform="translate(419.605263 772.370723)" style="fill: #e377c2; fill-opacity: 0.5; stroke: #e377c2; stroke-opacity: 0.5; stroke-width: 3.25; stroke-linejoin: bevel" /><path d="M 0 -9.75  L -2.189011 -3.012916  L -9.272801 -3.012916  L -3.541895 1.150831  L -5.730906 7.887916  L -0 3.724169  L 5.730906 7.887916  L 3.541895 1.150831  L 9.272801 -3.012916  L 2.189011 -3.012916  z " transform="translate(438.131579 765.853396)" style="fill: #e377c2; fill-opacity: 0.5; stroke: #e377c2; stroke-opacity: 0.5; stroke-width: 3.25; stroke-linejoin: bevel" /><path d="M 0 -9.75  L -2.189011 -3.012916  L -9.272801 -3.012916  L -3.541895 1.150831  L -5.730906 7.887916  L -0 3.724169  L 5.730906 7.887916  L 3.541895 1.150831  L 9.272801 -3.012916  L 2.189011 -3.012916  z " transform="translate(456.657895 758.588718)" style="fill: #e377c2; fill-opacity: 0.5; stroke: #e377c2; stroke-opacity: 0.5; stroke-width: 3.25; stroke-linejoin: bevel" /><path d="M 0 -9.75  L -2.189011 -3.012916  L -9.272801 -3.012916  L -3.541895 1.150831  L -5.730906 7.887916  L -0 3.724169  L 5.730906 7.887916  L 3.541895 1.150831  L 9.272801 -3.012916  L 2.189011 -3.012916  z " transform="translate(475.184211 750.578411)" style="fill: #e377c2; fill-opacity: 0.5; stroke: #e377c2; stroke-opacity: 0.5; stroke-width: 3.25; stroke-linejoin: bevel" /><path d="M 0 -9.75  L -2.189011 -3.012916  L -9.272801 -3.012916  L -3.541895 1.150831  L -5.730906 7.887916  L -0 3.724169  L 5.730906 7.887916  L 3.541895 1.150831  L 9.272801 -3.012916  L 2.189011 -3.012916  z " transform="translate(493.710526 741.825616)" style="fill: #e377c2; fill-opacity: 0.5; stroke: #e377c2; stroke-opacity: 0.5; stroke-width: 3.25; stroke-linejoin: bevel" /><path d="M 0 -9.75  L -2.189011 -3.012916  L -9.272801 -3.012916  L -3.541895 1.150831  L -5.730906 7.887916  L -0 3.724169  L 5.730906 7.887916  L 3.541895 1.150831  L 9.272801 -3.012916  L 2.189011 -3.012916  z " transform="translate(512.236842 732.334898)" style="fill: #e377c2; fill-opacity: 0.5; stroke: #e377c2; stroke-opacity: 0.5; stroke-width: 3.25; stroke-linejoin: bevel" /><path d="M 0 -9.75  L -2.189011 -3.012916  L -9.272801 -3.012916  L -3.541895 1.150831  L -5.730906 7.887916  L -0 3.724169  L 5.730906 7.887916  L 3.541895 1.150831  L 9.272801 -3.012916  L 2.189011 -3.012916  z " transform="translate(530.763158 722.112223)" style="fill: #e377c2; fill-opacity: 0.5; stroke: #e377c2; stroke-opacity: 0.5; stroke-width: 3.25; stroke-linejoin: bevel" /><path d="M 0 -9.75  L -2.189011 -3.012916  L -9.272801 -3.012916  L -3.541895 1.150831  L -5.730906 7.887916  L -0 3.724169  L 5.730906 7.887916  L 3.541895 1.150831  L 9.272801 -3.012916  L 2.189011 -3.012916  z " transform="translate(549.289474 711.164918)" style="fill: #e377c2; fill-opacity: 0.5; stroke: #e377c2; stroke-opacity: 0.5; stroke-width: 3.25; stroke-linejoin: bevel" /><path d="M 0 -9.75  L -2.189011 -3.012916  L -9.272801 -3.012916  L -3.541895 1.150831  L -5.730906 7.887916  L -0 3.724169  L 5.730906 7.887916  L 3.541895 1.150831  L 9.272801 -3.012916  L 2.189011 -3.012916  z " transform="translate(567.815789 699.501613)" style="fill: #e377c2; fill-opacity: 0.5; stroke: #e377c2; stroke-opacity: 0.5; stroke-width: 3.25; stroke-linejoin: bevel" /><path d="M 0 -9.75  L -2.189011 -3.012916  L -9.272801 -3.012916  L -3.541895 1.150831  L -5.730906 7.887916  L -0 3.724169  L 5.730906 7.887916  L 3.541895 1.150831  L 9.272801 -3.012916  L 2.189011 -3.012916  z " transform="translate(586.342105 687.132146)" style="fill: #e377c2; fill-opacity: 0.5; stroke: #e377c2; stroke-opacity: 0.5; stroke-width: 3.25; stroke-linejoin: bevel" /><path d="M 0 -9.75  L -2.189011 -3.012916  L -9.272801 -3.012916  L -3.541895 1.150831  L -5.730906 7.887916  L -0 3.724169  L 5.730906 7.887916  L 3.541895 1.150831  L 9.272801 -3.012916  L 2.189011 -3.012916  z " transform="translate(604.868421 674.067464)" style="fill: #e377c2; fill-opacity: 0.5; stroke: #e377c2; stroke-opacity: 0.5; stroke-width: 3.25; stroke-linejoin: bevel" /><path d="M 0 -9.75  L -2.189011 -3.012916  L -9.272801 -3.012916  L -3.541895 1.150831  L -5.730906 7.887916  L -0 3.724169  L 5.730906 7.887916  L 3.541895 1.150831  L 9.272801 -3.012916  L 2.189011 -3.012916  z " transform="translate(623.394737 660.319491)" style="fill: #e377c2; fill-opacity: 0.5; stroke: #e377c2; stroke-opacity: 0.5; stroke-width: 3.25; stroke-linejoin: bevel" /><path d="M 0 -9.75  L -2.189011 -3.012916  L -9.272801 -3.012916  L -3.541895 1.150831  L -5.730906 7.887916  L -0 3.724169  L 5.730906 7.887916  L 3.541895 1.150831  L 9.272801 -3.012916  L 2.189011 -3.012916  z " transform="translate(641.921053 645.900973)" style="fill: #e377c2; fill-opacity: 0.5; stroke: #e377c2; stroke-opacity: 0.5; stroke-width: 3.25; stroke-linejoin: bevel" /><path d="M 0 -9.75  L -2.189011 -3.012916  L -9.272801 -3.012916  L -3.541895 1.150831  L -5.730906 7.887916  L -0 3.724169  L 5.730906 7.887916  L 3.541895 1.150831  L 9.272801 -3.012916  L 2.189011 -3.012916  z " transform="translate(660.447368 630.825313)" style="fill: #e377c2; fill-opacity: 0.5; stroke: #e377c2; stroke-opacity: 0.5; stroke-width: 3.25; stroke-linejoin: bevel" /><path d="M 0 -9.75  L -2.189011 -3.012916  L -9.272801 -3.012916  L -3.541895 1.150831  L -5.730906 7.887916  L -0 3.724169  L 5.730906 7.887916  L 3.541895 1.150831  L 9.272801 -3.012916  L 2.189011 -3.012916  z " transform="translate(678.973684 615.106364)" style="fill: #e377c2; fill-opacity: 0.5; stroke: #e377c2; stroke-opacity: 0.5; stroke-width: 3.25; stroke-linejoin: bevel" /><path d="M 0 -9.75  L -2.189011 -3.012916  L -9.272801 -3.012916  L -3.541895 1.150831  L -5.730906 7.887916  L -0 3.724169  L 5.730906 7.887916  L 3.541895 1.150831  L 9.272801 -3.012916  L 2.189011 -3.012916  z " transform="translate(697.5 598.758223)" style="fill: #e377c2; fill-opacity: 0.5; stroke: #e377c2; stroke-opacity: 0.5; stroke-width: 3.25; stroke-linejoin: bevel" /><path d="M 0 -9.75  L -2.189011 -3.012916  L -9.272801 -3.012916  L -3.541895 1.150831  L -5.730906 7.887916  L -0 3.724169  L 5.730906 7.887916  L 3.541895 1.150831  L 9.272801 -3.012916  L 2.189011 -3.012916  z " transform="translate(716.357143 581.486562)" style="fill: #e377c2; fill-opacity: 0.5; stroke: #e377c2; stroke-opacity: 0.5; stroke-width: 3.25; stroke-linejoin: bevel" /><path d="M 0 -9.75  L -2.189011 -3.012916  L -9.272801 -3.012916  L -3.541895 1.150831  L -5.730906 7.887916  L -0 3.724169  L 5.730906 7.887916  L 3.541895 1.150831  L 9.272801 -3.012916  L 2.189011 -3.012916  z " transform="translate(735.214286 563.592217)" style="fill: #e377c2; fill-opacity: 0.5; stroke: #e377c2; stroke-opacity: 0.5; stroke-width: 3.25; stroke-linejoin: bevel" /><path d="M 0 -9.75  L -2.189011 -3.012916  L -9.272801 -3.012916  L -3.541895 1.150831  L -5.730906 7.887916  L -0 3.724169  L 5.730906 7.887916  L 3.541895 1.150831  L 9.272801 -3.012916  L 2.189011 -3.012916  z " transform="translate(754.071429 545.089174)" style="fill: #e377c2; fill-opacity: 0.5; stroke: #e377c2; stroke-opacity: 0.5; stroke-width: 3.25; stroke-linejoin: bevel" /><path d="M 0 -9.75  L -2.189011 -3.012916  L -9.272801 -3.012916  L -3.541895 1.150831  L -5.730906 7.887916  L -0 3.724169  L 5.730906 7.887916  L 3.541895 1.150831  L 9.272801 -3.012916  L 2.189011 -3.012916  z " transform="translate(772.928571 525.990495)" style="fill: #e377c2; fill-opacity: 0.5; stroke: #e377c2; stroke-opacity: 0.5; stroke-width: 3.25; stroke-linejoin: bevel" /><path d="M 0 -9.75  L -2.189011 -3.012916  L -9.272801 -3.012916  L -3.541895 1.150831  L -5.730906 7.887916  L -0 3.724169  L 5.730906 7.887916  L 3.541895 1.150831  L 9.272801 -3.012916  L 2.189011 -3.012916  z " transform="translate(791.785714 506.307953)" style="fill: #e377c2; fill-opacity: 0.5; stroke: #e377c2; stroke-opacity: 0.5; stroke-width: 3.25; stroke-linejoin: bevel" /><path d="M 0 -9.75  L -2.189011 -3.012916  L -9.272801 -3.012916  L -3.541895 1.150831  L -5.730906 7.887916  L -0 3.724169  L 5.730906 7.887916  L 3.541895 1.150831  L 9.272801 -3.012916  L 2.189011 -3.012916  z " transform="translate(810.642857 486.05165)" style="fill: #e377c2; fill-opacity: 0.5; stroke: #e377c2; stroke-opacity: 0.5; stroke-width: 3.25; stroke-linejoin: bevel" /><path d="M 0 -9.75  L -2.189011 -3.012916  L -9.272801 -3.012916  L -3.541895 1.150831  L -5.730906 7.887916  L -0 3.724169  L 5.730906 7.887916  L 3.541895 1.150831  L 9.272801 -3.012916  L 2.189011 -3.012916  z " transform="translate(829.5 465.229613)" style="fill: #e377c2; fill-opacity: 0.5; stroke: #e377c2; stroke-opacity: 0.5; stroke-width: 3.25; stroke-linejoin: bevel" /><path d="M 0 -9.75  L -2.189011 -3.012916  L -9.272801 -3.012916  L -3.541895 1.150831  L -5.730906 7.887916  L -0 3.724169  L 5.730906 7.887916  L 3.541895 1.150831  L 9.272801 -3.012916  L 2.189011 -3.012916  z " transform="translate(848.166667 444.066126)" style="fill: #e377c2; fill-opacity: 0.5; stroke: #e377c2; stroke-opacity: 0.5; stroke-width: 3.25; stroke-linejoin: bevel" /><path d="M 0 -9.75  L -2.189011 -3.012916  L -9.272801 -3.012916  L -3.541895 1.150831  L -5.730906 7.887916  L -0 3.724169  L 5.730906 7.887916  L 3.541895 1.150831  L 9.272801 -3.012916  L 2.189011 -3.012916  z " transform="translate(866.833333 422.356168)" style="fill: #e377c2; fill-opacity: 0.5; stroke: #e377c2; stroke-opacity: 0.5; stroke-width: 3.25; stroke-linejoin: bevel" /><path d="M 0 -9.75  L -2.189011 -3.012916  L -9.272801 -3.012916  L -3.541895 1.150831  L -5.730906 7.887916  L -0 3.724169  L 5.730906 7.887916  L 3.541895 1.150831  L 9.272801 -3.012916  L 2.189011 -3.012916  z " transform="translate(885.5 400.098915)" style="fill: #e377c2; fill-opacity: 0.5; stroke: #e377c2; stroke-opacity: 0.5; stroke-width: 3.25; stroke-linejoin: bevel" /><path d="M 0 -9.75  L -2.189011 -3.012916  L -9.272801 -3.012916  L -3.541895 1.150831  L -5.730906 7.887916  L -0 3.724169  L 5.730906 7.887916  L 3.541895 1.150831  L 9.272801 -3.012916  L 2.189011 -3.012916  z " transform="translate(904.166667 377.289754)" style="fill: #e377c2; fill-opacity: 0.5; stroke: #e377c2; stroke-opacity: 0.5; stroke-width: 3.25; stroke-linejoin: bevel" /><path d="M 0 -9.75  L -2.189011 -3.012916  L -9.272801 -3.012916  L -3.541895 1.150831  L -5.730906 7.887916  L -0 3.724169  L 5.730906 7.887916  L 3.541895 1.150831  L 9.272801 -3.012916  L 2.189011 -3.012916  z " transform="translate(922.833333 353.919779)" style="fill: #e377c2; fill-opacity: 0.5; stroke: #e377c2; stroke-opacity: 0.5; stroke-width: 3.25; stroke-linejoin: bevel" /><path d="M 0 -9.75  L -2.189011 -3.012916  L -9.272801 -3.012916  L -3.541895 1.150831  L -5.730906 7.887916  L -0 3.724169  L 5.730906 7.887916  L 3.541895 1.150831  L 9.272801 -3.012916  L 2.189011 -3.012916  z " transform="translate(941.5 329.975261)" style="fill: #e377c2; fill-opacity: 0.5; stroke: #e377c2; stroke-opacity: 0.5; stroke-width: 3.25; stroke-linejoin: bevel" /><path d="M 0 -9.75  L -2.189011 -3.012916  L -9.272801 -3.012916  L -3.541895 1.150831  L -5.730906 7.887916  L -0 3.724169  L 5.730906 7.887916  L 3.541895 1.150831  L 9.272801 -3.012916  L 2.189011 -3.012916  z " transform="translate(959.6625 306.107854)" style="fill: #e377c2; fill-opacity: 0.5; stroke: #e377c2; stroke-opacity: 0.5; stroke-width: 3.25; stroke-linejoin: bevel" /><path d="M 0 -9.75  L -2.189011 -3.012916  L -9.272801 -3.012916  L -3.541895 1.150831  L -5.730906 7.887916  L -0 3.724169  L 5.730906 7.887916  L 3.541895 1.150831  L 9.272801 -3.012916  L 2.189011 -3.012916  z " transform="translate(977.825 281.655479)" style="fill: #e377c2; fill-opacity: 0.5; stroke: #e377c2; stroke-opacity: 0.5; stroke-width: 3.25; stroke-linejoin: bevel" /><path d="M 0 -9.75  L -2.189011 -3.012916  L -9.272801 -3.012916  L -3.541895 1.150831  L -5.730906 7.887916  L -0 3.724169  L 5.730906 7.887916  L 3.541895 1.150831  L 9.272801 -3.012916  L 2.189011 -3.012916  z " transform="translate(995.9875 256.589301)" style="fill: #e377c2; fill-opacity: 0.5; stroke: #e377c2; stroke-opacity: 0.5; stroke-width: 3.25; stroke-linejoin: bevel" /><path d="M 0 -9.75  L -2.189011 -3.012916  L -9.272801 -3.012916  L -3.541895 1.150831  L -5.730906 7.887916  L -0 3.724169  L 5.730906 7.887916  L 3.541895 1.150831  L 9.272801 -3.012916  L 2.189011 -3.012916  z " transform="translate(1014.15 230.8741)" style="fill: #e377c2; fill-opacity: 0.5; stroke: #e377c2; stroke-opacity: 0.5; stroke-width: 3.25; stroke-linejoin: bevel" /><path d="M 0 -9.75  L -2.189011 -3.012916  L -9.272801 -3.012916  L -3.541895 1.150831  L -5.730906 7.887916  L -0 3.724169  L 5.730906 7.887916  L 3.541895 1.150831  L 9.272801 -3.012916  L 2.189011 -3.012916  z " transform="translate(1032.3125 204.467708)" style="fill: #e377c2; fill-opacity: 0.5; stroke: #e377c2; stroke-opacity: 0.5; stroke-width: 3.25; stroke-linejoin: bevel" /><path d="M 0 -9.75  L -2.189011 -3.012916  L -9.272801 -3.012916  L -3.541895 1.150831  L -5.730906 7.887916  L -0 3.724169  L 5.730906 7.887916  L 3.541895 1.150831  L 9.272801 -3.012916  L 2.189011 -3.012916  z " transform="translate(1050.475 177.320434)" style="fill: #e377c2; fill-opacity: 0.5; stroke: #e377c2; stroke-opacity: 0.5; stroke-width: 3.25; stroke-linejoin: bevel" /><path d="M 0 -9.75  L -2.189011 -3.012916  L -9.272801 -3.012916  L -3.541895 1.150831  L -5.730906 7.887916  L -0 3.724169  L 5.730906 7.887916  L 3.541895 1.150831  L 9.272801 -3.012916  L 2.189011 -3.012916  z " transform="translate(1068.6375 149.374466)" style="fill: #e377c2; fill-opacity: 0.5; stroke: #e377c2; stroke-opacity: 0.5; stroke-width: 3.25; stroke-linejoin: bevel" /><path d="M 0 -9.75  L -2.189011 -3.012916  L -9.272801 -3.012916  L -3.541895 1.150831  L -5.730906 7.887916  L -0 3.724169  L 5.730906 7.887916  L 3.541895 1.150831  L 9.272801 -3.012916  L 2.189011 -3.012916  z " transform="translate(1086.8 120.56325)" style="fill: #e377c2; fill-opacity: 0.5; stroke: #e377c2; stroke-opacity: 0.5; stroke-width: 3.25; stroke-linejoin: bevel" /><path d="M 0 -9.75  L -2.189011 -3.012916  L -9.272801 -3.012916  L -3.541895 1.150831  L -5.730906 7.887916  L -0 3.724169  L 5.730906 7.887916  L 3.541895 1.150831  L 9.272801 -3.012916  L 2.189011 -3.012916  z " transform="translate(1107.474 86.617945)" style="fill: #e377c2; fill-opacity: 0.5; stroke: #e377c2; stroke-opacity: 0.5; stroke-width: 3.25; stroke-linejoin: bevel" /></g>
</g>
<g id="patch_3">
<path d="M 150.6 937.8  L 150.6 14.85  " style="fill: none; stroke: #000000; stroke-width: 2.6; stroke-linejoin: miter; stroke-linecap: square" />
</g>
<g id="patch_4">
<path d="M 1098 937.8  L 1098 14.85  " style="fill: none; stroke: #000000; stroke-width: 2.6; stroke-linejoin: miter; stroke-linecap: square" />
</g>
<g id="patch_5">
<path d="M 150.6 937.8  L 1098 937.8  " style="fill: none; stroke: #000000; stroke-width: 2.6; stroke-linejoin: miter; stroke-linecap: square" />
</g>
<g id="patch_6">
<path d="M 150.6 14.85  L 1098 14.85  " style="fill: none; stroke: #000000; stroke-width: 2.6; stroke-linejoin: miter; stroke-linecap: square" />
</g>
<g id="legend_1">
<g id="patch_7">
<path d="M 175.2000 349.2000 L 884.0000 349.2000 Q 889.2000 349.2000 889.2000 344.0000 L 889.2000 33.3000 Q 889.2000 28.1000 884.0000 28.1000 L 175.2000 28.1000 Q 170.0000 28.1000 170.0000 33.3000 L 170.0000 344.0000 Q 170.0000 349.2000 175.2000 349.2000 z" style="fill: #ffffff; opacity: 0.8; stroke: #cccccc; stroke-width: 3.25; stroke-linejoin: miter" />
</g>
<g id="line2d_21" transform="translate(0 -0.0776)">
<path d="M 180.465 53.477625  L 206.6275 53.477625  L 232.79 53.477625  " style="fill: none; stroke: #1f77b4; stroke-width: 4.875; stroke-linecap: square" />
<g>
<path d="M 0 4.875  C 1.292865 4.875 2.532952 4.361339 3.447146 3.447146  C 4.361339 2.532952 4.875 1.292865 4.875 0  C 4.875 -1.292865 4.361339 -2.532952 3.447146 -3.447146  C 2.532952 -4.361339 1.292865 -4.875 0 -4.875  C -1.292865 -4.875 -2.532952 -4.361339 -3.447146 -3.447146  C -4.361339 -2.532952 -4.875 -1.292865 -4.875 0  C -4.875 1.292865 -4.361339 2.532952 -3.447146 3.447146  C -2.532952 4.361339 -1.292865 4.875 0 4.875  z " transform="translate(206.6275 53.477625)" style="fill: #1f77b4; stroke: #1f77b4; stroke-width: 3.25" /></g>
</g>
<g id="text_16" transform="translate(0 0.2874)">
<g transform="translate(253.72 62.6345)">
<text>
<tspan x="0.0000" y="-0.221875" style="font-size: 26.1625px; font-family: 'DejaVu Sans', 'Liberation Sans', sans-serif">non-linear P-BE, </tspan><tspan x="216.9472" y="-0.221875" style="font-style: oblique; font-size: 26.1625px; font-family: 'DejaVu Sans', 'Liberation Sans', sans-serif">R</tspan><tspan x="236.9235" y="-10.175" style="font-size: 18.31375px; font-family: 'DejaVu Sans', 'Liberation Sans', sans-serif">solvent</tspan><tspan x="309.3557" y="-0.221875" style="font-size: 26.1625px; font-family: 'DejaVu Sans', 'Liberation Sans', sans-serif">=</tspan><tspan x="336.3354" y="-0.221875" style="font-size: 26.1625px; font-family: 'DejaVu Sans', 'Liberation Sans', sans-serif">10.5</tspan><tspan x="394.5043" y="-0.221875" style="font-style: oblique; font-size: 26.1625px; font-family: 'DejaVu Sans', 'Liberation Sans', sans-serif">a</tspan><tspan x="410.5136" y="4.04375" style="font-size: 18.31375px; font-family: 'DejaVu Sans', 'Liberation Sans', sans-serif">0</tspan><tspan x="422.8596" y="-0.221875" style="font-size: 26.1625px; font-family: 'DejaVu Sans', 'Liberation Sans', sans-serif">,</tspan><tspan x="436.2537" y="-0.221875" style="font-style: oblique; font-size: 26.1625px; font-family: 'DejaVu Sans', 'Liberation Sans', sans-serif">ρ</tspan><tspan x="452.8370" y="6.8875" style="font-style: oblique; font-size: 18.31375px; font-family: 'DejaVu Sans', 'Liberation Sans', sans-serif">e</tspan><tspan x="454.0463" y="-10.175" style="font-style: oblique; font-size: 18.31375px; font-family: 'DejaVu Sans', 'Liberation Sans', sans-serif">λ</tspan><tspan x="470.6695" y="-0.221875" style="font-size: 26.1625px; font-family: 'DejaVu Sans', 'Liberation Sans', sans-serif">=</tspan><tspan x="497.6492" y="-0.221875" style="font-size: 26.1625px; font-family: 'DejaVu Sans', 'Liberation Sans', sans-serif">0.001</tspan><tspan x="572.4397" y="-0.221875" style="font-style: oblique; font-size: 26.1625px; font-family: 'DejaVu Sans', 'Liberation Sans', sans-serif">e</tspan><tspan x="588.5126" y="-0.221875" style="font-size: 26.1625px; font-family: 'DejaVu Sans', 'Liberation Sans', sans-serif">/</tspan><tspan x="597.3145" y="-0.221875" style="font-style: oblique; font-size: 26.1625px; font-family: 'DejaVu Sans', 'Liberation Sans', sans-serif">a</tspan><tspan x="613.3237" y="6.8875" style="font-size: 18.31375px; font-family: 'DejaVu Sans', 'Liberation Sans', sans-serif">0</tspan><tspan x="614.5331" y="-10.175" style="font-size: 18.31375px; font-family: 'DejaVu Sans', 'Liberation Sans', sans-serif">3</tspan></text>
</g>
</g>
<g id="line2d_22" transform="translate(0 0.2645)">
<path d="M 180.465 98.2155  L 206.6275 98.2155  L 232.79 98.2155  " style="fill: none; stroke: #ff7f0e; stroke-width: 4.875; stroke-linecap: square" />
<g>
<path d="M -9.75 9.75  L 9.75 -9.75  M -9.75 -9.75  L 9.75 9.75  " transform="translate(206.6275 98.2155)" style="fill: #ff7f0e; stroke: #ff7f0e; stroke-width: 3.25" /></g>
</g>
<g id="text_17" transform="translate(0 0.6295)">
<g transform="translate(253.72 107.372375)">
<text>
<tspan x="0.0000" y="-0.221875" style="font-size: 26.1625px; font-family: 'DejaVu Sans', 'Liberation Sans', sans-serif">non-linear P-BE, </tspan><tspan x="216.9472" y="-0.221875" style="font-style: oblique; font-size: 26.1625px; font-family: 'DejaVu Sans', 'Liberation Sans', sans-serif">R</tspan><tspan x="236.9235" y="-10.175" style="font-size: 18.31375px; font-family: 'DejaVu Sans', 'Liberation Sans', sans-serif">solvent</tspan><tspan x="309.3557" y="-0.221875" style="font-size: 26.1625px; font-family: 'DejaVu Sans', 'Liberation Sans', sans-serif">=</tspan><tspan x="336.3354" y="-0.221875" style="font-size: 26.1625px; font-family: 'DejaVu Sans', 'Liberation Sans', sans-serif">10.5</tspan><tspan x="394.5043" y="-0.221875" style="font-style: oblique; font-size: 26.1625px; font-family: 'DejaVu Sans', 'Liberation Sans', sans-serif">a</tspan><tspan x="410.5136" y="4.04375" style="font-size: 18.31375px; font-family: 'DejaVu Sans', 'Liberation Sans', sans-serif">0</tspan><tspan x="422.8596" y="-0.221875" style="font-size: 26.1625px; font-family: 'DejaVu Sans', 'Liberation Sans', sans-serif">,</tspan><tspan x="436.2537" y="-0.221875" style="font-style: oblique; font-size: 26.1625px; font-family: 'DejaVu Sans', 'Liberation Sans', sans-serif">ρ</tspan><tspan x="452.8370" y="6.8875" style="font-style: oblique; font-size: 18.31375px; font-family: 'DejaVu Sans', 'Liberation Sans', sans-serif">e</tspan><tspan x="454.0463" y="-10.175" style="font-style: oblique; font-size: 18.31375px; font-family: 'DejaVu Sans', 'Liberation Sans', sans-serif">λ</tspan><tspan x="470.6695" y="-0.221875" style="font-size: 26.1625px; font-family: 'DejaVu Sans', 'Liberation Sans', sans-serif">=</tspan><tspan x="497.6492" y="-0.221875" style="font-size: 26.1625px; font-family: 'DejaVu Sans', 'Liberation Sans', sans-serif">0.002</tspan><tspan x="572.4397" y="-0.221875" style="font-style: oblique; font-size: 26.1625px; font-family: 'DejaVu Sans', 'Liberation Sans', sans-serif">e</tspan><tspan x="588.5126" y="-0.221875" style="font-size: 26.1625px; font-family: 'DejaVu Sans', 'Liberation Sans', sans-serif">/</tspan><tspan x="597.3145" y="-0.221875" style="font-style: oblique; font-size: 26.1625px; font-family: 'DejaVu Sans', 'Liberation Sans', sans-serif">a</tspan><tspan x="613.3237" y="6.8875" style="font-size: 18.31375px; font-family: 'DejaVu Sans', 'Liberation Sans', sans-serif">0</tspan><tspan x="614.5331" y="-10.175" style="font-size: 18.31375px; font-family: 'DejaVu Sans', 'Liberation Sans', sans-serif">3</tspan></text>
</g>
</g>
<g id="line2d_23" transform="translate(0 0.6066)">
<path d="M 180.465 142.953375  L 206.6275 142.953375  L 232.79 142.953375  " style="fill: none; stroke: #2ca02c; stroke-width: 4.875; stroke-linecap: square" />
<g>
<path d="M -9.75 0  L 9.75 0  M 0 9.75  L 0 -9.75  " transform="translate(206.6275 142.953375)" style="fill: #2ca02c; stroke: #2ca02c; stroke-width: 3.25" /></g>
</g>
<g id="text_18" transform="translate(0 0.9716)">
<g transform="translate(253.72 152.11025)">
<text>
<tspan x="0.0000" y="-0.221875" style="font-size: 26.1625px; font-family: 'DejaVu Sans', 'Liberation Sans', sans-serif">non-linear P-BE, </tspan><tspan x="216.9472" y="-0.221875" style="font-style: oblique; font-size: 26.1625px; font-family: 'DejaVu Sans', 'Liberation Sans', sans-serif">R</tspan><tspan x="236.9235" y="-10.175" style="font-size: 18.31375px; font-family: 'DejaVu Sans', 'Liberation Sans', sans-serif">solvent</tspan><tspan x="309.3557" y="-0.221875" style="font-size: 26.1625px; font-family: 'DejaVu Sans', 'Liberation Sans', sans-serif">=</tspan><tspan x="336.3354" y="-0.221875" style="font-size: 26.1625px; font-family: 'DejaVu Sans', 'Liberation Sans', sans-serif">10.5</tspan><tspan x="394.5043" y="-0.221875" style="font-style: oblique; font-size: 26.1625px; font-family: 'DejaVu Sans', 'Liberation Sans', sans-serif">a</tspan><tspan x="410.5136" y="4.04375" style="font-size: 18.31375px; font-family: 'DejaVu Sans', 'Liberation Sans', sans-serif">0</tspan><tspan x="422.8596" y="-0.221875" style="font-size: 26.1625px; font-family: 'DejaVu Sans', 'Liberation Sans', sans-serif">,</tspan><tspan x="436.2537" y="-0.221875" style="font-style: oblique; font-size: 26.1625px; font-family: 'DejaVu Sans', 'Liberation Sans', sans-serif">ρ</tspan><tspan x="452.8370" y="6.8875" style="font-style: oblique; font-size: 18.31375px; font-family: 'DejaVu Sans', 'Liberation Sans', sans-serif">e</tspan><tspan x="454.0463" y="-10.175" style="font-style: oblique; font-size: 18.31375px; font-family: 'DejaVu Sans', 'Liberation Sans', sans-serif">λ</tspan><tspan x="470.6695" y="-0.221875" style="font-size: 26.1625px; font-family: 'DejaVu Sans', 'Liberation Sans', sans-serif">=</tspan><tspan x="497.6492" y="-0.221875" style="font-size: 26.1625px; font-family: 'DejaVu Sans', 'Liberation Sans', sans-serif">0.003</tspan><tspan x="572.4397" y="-0.221875" style="font-style: oblique; font-size: 26.1625px; font-family: 'DejaVu Sans', 'Liberation Sans', sans-serif">e</tspan><tspan x="588.5126" y="-0.221875" style="font-size: 26.1625px; font-family: 'DejaVu Sans', 'Liberation Sans', sans-serif">/</tspan><tspan x="597.3145" y="-0.221875" style="font-style: oblique; font-size: 26.1625px; font-family: 'DejaVu Sans', 'Liberation Sans', sans-serif">a</tspan><tspan x="613.3237" y="6.8875" style="font-size: 18.31375px; font-family: 'DejaVu Sans', 'Liberation Sans', sans-serif">0</tspan><tspan x="614.5331" y="-10.175" style="font-size: 18.31375px; font-family: 'DejaVu Sans', 'Liberation Sans', sans-serif">3</tspan></text>
</g>
</g>
<g id="line2d_24" transform="translate(0 0.9488)">
<path d="M 180.465 187.69125  L 206.6275 187.69125  L 232.79 187.69125  " style="fill: none; stroke: #d62728; stroke-width: 4.875; stroke-linecap: square" />
<g>
<path d="M 0 9.75  L 0 -9.75  " transform="translate(206.6275 187.69125)" style="fill: #d62728; stroke: #d62728; stroke-width: 3.25" /></g>
</g>
<g id="text_19" transform="translate(0 1.3137)">
<g transform="translate(253.72 196.848125)">
<text>
<tspan x="0.0000" y="-0.221875" style="font-size: 26.1625px; font-family: 'DejaVu Sans', 'Liberation Sans', sans-serif">linearised P-BE, </tspan><tspan x="211.9467" y="-0.221875" style="font-style: oblique; font-size: 26.1625px; font-family: 'DejaVu Sans', 'Liberation Sans', sans-serif">R</tspan><tspan x="231.9230" y="-10.175" style="font-size: 18.31375px; font-family: 'DejaVu Sans', 'Liberation Sans', sans-serif">solvent</tspan><tspan x="304.3552" y="-0.221875" style="font-size: 26.1625px; font-family: 'DejaVu Sans', 'Liberation Sans', sans-serif">=</tspan><tspan x="331.3349" y="-0.221875" style="font-size: 26.1625px; font-family: 'DejaVu Sans', 'Liberation Sans', sans-serif">10.5</tspan><tspan x="389.5039" y="-0.221875" style="font-style: oblique; font-size: 26.1625px; font-family: 'DejaVu Sans', 'Liberation Sans', sans-serif">a</tspan><tspan x="405.5131" y="4.04375" style="font-size: 18.31375px; font-family: 'DejaVu Sans', 'Liberation Sans', sans-serif">0</tspan><tspan x="417.8591" y="-0.221875" style="font-size: 26.1625px; font-family: 'DejaVu Sans', 'Liberation Sans', sans-serif">,</tspan><tspan x="431.2532" y="-0.221875" style="font-style: oblique; font-size: 26.1625px; font-family: 'DejaVu Sans', 'Liberation Sans', sans-serif">ρ</tspan><tspan x="447.8365" y="6.8875" style="font-style: oblique; font-size: 18.31375px; font-family: 'DejaVu Sans', 'Liberation Sans', sans-serif">e</tspan><tspan x="449.0458" y="-10.175" style="font-style: oblique; font-size: 18.31375px; font-family: 'DejaVu Sans', 'Liberation Sans', sans-serif">λ</tspan><tspan x="465.6690" y="-0.221875" style="font-size: 26.1625px; font-family: 'DejaVu Sans', 'Liberation Sans', sans-serif">=</tspan><tspan x="492.6487" y="-0.221875" style="font-size: 26.1625px; font-family: 'DejaVu Sans', 'Liberation Sans', sans-serif">0.002</tspan><tspan x="567.4392" y="-0.221875" style="font-style: oblique; font-size: 26.1625px; font-family: 'DejaVu Sans', 'Liberation Sans', sans-serif">e</tspan><tspan x="583.5122" y="-0.221875" style="font-size: 26.1625px; font-family: 'DejaVu Sans', 'Liberation Sans', sans-serif">/</tspan><tspan x="592.3140" y="-0.221875" style="font-style: oblique; font-size: 26.1625px; font-family: 'DejaVu Sans', 'Liberation Sans', sans-serif">a</tspan><tspan x="608.3233" y="6.8875" style="font-size: 18.31375px; font-family: 'DejaVu Sans', 'Liberation Sans', sans-serif">0</tspan><tspan x="609.5326" y="-10.175" style="font-size: 18.31375px; font-family: 'DejaVu Sans', 'Liberation Sans', sans-serif">3</tspan></text>
</g>
</g>
<g id="line2d_25" transform="translate(0 1.2909)">
<path d="M 180.465 232.429125  L 206.6275 232.429125  L 232.79 232.429125  " style="fill: none; stroke-dasharray: 18.0375,7.8; stroke-dashoffset: 0; stroke: #9467bd; stroke-width: 4.875" />
</g>
<g id="text_20" transform="translate(0 1.6559)">
<g transform="translate(253.72 241.586)">
<text>
<tspan x="0.0000" y="-0.221875" style="font-size: 26.1625px; font-family: 'DejaVu Sans', 'Liberation Sans', sans-serif">linearised P-BE, </tspan><tspan x="211.9467" y="-0.221875" style="font-style: oblique; font-size: 26.1625px; font-family: 'DejaVu Sans', 'Liberation Sans', sans-serif">R</tspan><tspan x="231.9230" y="-10.175" style="font-size: 18.31375px; font-family: 'DejaVu Sans', 'Liberation Sans', sans-serif">solvent</tspan><tspan x="304.3552" y="-0.221875" style="font-size: 26.1625px; font-family: 'DejaVu Sans', 'Liberation Sans', sans-serif">=</tspan><tspan x="331.3349" y="-0.221875" style="font-size: 26.1625px; font-family: 'DejaVu Sans', 'Liberation Sans', sans-serif">5.0</tspan><tspan x="372.8823" y="-0.221875" style="font-style: oblique; font-size: 26.1625px; font-family: 'DejaVu Sans', 'Liberation Sans', sans-serif">a</tspan><tspan x="388.8916" y="4.04375" style="font-size: 18.31375px; font-family: 'DejaVu Sans', 'Liberation Sans', sans-serif">0</tspan><tspan x="401.2376" y="-0.221875" style="font-size: 26.1625px; font-family: 'DejaVu Sans', 'Liberation Sans', sans-serif">,</tspan><tspan x="414.6317" y="-0.221875" style="font-style: oblique; font-size: 26.1625px; font-family: 'DejaVu Sans', 'Liberation Sans', sans-serif">ρ</tspan><tspan x="431.2150" y="6.8875" style="font-style: oblique; font-size: 18.31375px; font-family: 'DejaVu Sans', 'Liberation Sans', sans-serif">e</tspan><tspan x="432.4243" y="-10.175" style="font-style: oblique; font-size: 18.31375px; font-family: 'DejaVu Sans', 'Liberation Sans', sans-serif">λ</tspan><tspan x="449.0475" y="-0.221875" style="font-size: 26.1625px; font-family: 'DejaVu Sans', 'Liberation Sans', sans-serif">=</tspan><tspan x="476.0272" y="-0.221875" style="font-size: 26.1625px; font-family: 'DejaVu Sans', 'Liberation Sans', sans-serif">0.002</tspan><tspan x="550.8176" y="-0.221875" style="font-style: oblique; font-size: 26.1625px; font-family: 'DejaVu Sans', 'Liberation Sans', sans-serif">e</tspan><tspan x="566.8906" y="-0.221875" style="font-size: 26.1625px; font-family: 'DejaVu Sans', 'Liberation Sans', sans-serif">/</tspan><tspan x="575.6925" y="-0.221875" style="font-style: oblique; font-size: 26.1625px; font-family: 'DejaVu Sans', 'Liberation Sans', sans-serif">a</tspan><tspan x="591.7017" y="6.8875" style="font-size: 18.31375px; font-family: 'DejaVu Sans', 'Liberation Sans', sans-serif">0</tspan><tspan x="592.9111" y="-10.175" style="font-size: 18.31375px; font-family: 'DejaVu Sans', 'Liberation Sans', sans-serif">3</tspan></text>
</g>
</g>
<g id="line2d_26" transform="translate(0 1.6330)">
<path d="M 180.465 277.167  L 206.6275 277.167  L 232.79 277.167  " style="fill: none; stroke: #8c564b; stroke-opacity: 0.5; stroke-width: 4.875; stroke-linecap: square" />
<g>
<path d="M 0 9.75  C 2.58573 9.75 5.065904 8.722678 6.894291 6.894291  C 8.722678 5.065904 9.75 2.58573 9.75 0  C 9.75 -2.58573 8.722678 -5.065904 6.894291 -6.894291  C 5.065904 -8.722678 2.58573 -9.75 0 -9.75  C -2.58573 -9.75 -5.065904 -8.722678 -6.894291 -6.894291  C -8.722678 -5.065904 -9.75 -2.58573 -9.75 0  C -9.75 2.58573 -8.722678 5.065904 -6.894291 6.894291  C -5.065904 8.722678 -2.58573 9.75 0 9.75  z " transform="translate(206.6275 277.167)" style="fill: #8c564b; fill-opacity: 0.5; stroke: #8c564b; stroke-opacity: 0.5; stroke-width: 3.25" /></g>
</g>
<g id="text_21" transform="translate(0 1.9980)">
<g transform="translate(253.72 286.323875)">
<text>
<tspan x="0.0000" y="-0.221875" style="font-size: 26.1625px; font-family: 'DejaVu Sans', 'Liberation Sans', sans-serif">linearised P-BE, </tspan><tspan x="211.9467" y="-0.221875" style="font-style: oblique; font-size: 26.1625px; font-family: 'DejaVu Sans', 'Liberation Sans', sans-serif">R</tspan><tspan x="231.9230" y="-10.175" style="font-size: 18.31375px; font-family: 'DejaVu Sans', 'Liberation Sans', sans-serif">solvent</tspan><tspan x="304.3552" y="-0.221875" style="font-size: 26.1625px; font-family: 'DejaVu Sans', 'Liberation Sans', sans-serif">=</tspan><tspan x="331.3349" y="-0.221875" style="font-size: 26.1625px; font-family: 'DejaVu Sans', 'Liberation Sans', sans-serif">0.0</tspan><tspan x="372.8823" y="-0.221875" style="font-style: oblique; font-size: 26.1625px; font-family: 'DejaVu Sans', 'Liberation Sans', sans-serif">a</tspan><tspan x="388.8916" y="4.04375" style="font-size: 18.31375px; font-family: 'DejaVu Sans', 'Liberation Sans', sans-serif">0</tspan><tspan x="401.2376" y="-0.221875" style="font-size: 26.1625px; font-family: 'DejaVu Sans', 'Liberation Sans', sans-serif">,</tspan><tspan x="414.6317" y="-0.221875" style="font-style: oblique; font-size: 26.1625px; font-family: 'DejaVu Sans', 'Liberation Sans', sans-serif">ρ</tspan><tspan x="431.2150" y="6.8875" style="font-style: oblique; font-size: 18.31375px; font-family: 'DejaVu Sans', 'Liberation Sans', sans-serif">e</tspan><tspan x="432.4243" y="-10.175" style="font-style: oblique; font-size: 18.31375px; font-family: 'DejaVu Sans', 'Liberation Sans', sans-serif">λ</tspan><tspan x="449.0475" y="-0.221875" style="font-size: 26.1625px; font-family: 'DejaVu Sans', 'Liberation Sans', sans-serif">=</tspan><tspan x="476.0272" y="-0.221875" style="font-size: 26.1625px; font-family: 'DejaVu Sans', 'Liberation Sans', sans-serif">0.002</tspan><tspan x="550.8176" y="-0.221875" style="font-style: oblique; font-size: 26.1625px; font-family: 'DejaVu Sans', 'Liberation Sans', sans-serif">e</tspan><tspan x="566.8906" y="-0.221875" style="font-size: 26.1625px; font-family: 'DejaVu Sans', 'Liberation Sans', sans-serif">/</tspan><tspan x="575.6925" y="-0.221875" style="font-style: oblique; font-size: 26.1625px; font-family: 'DejaVu Sans', 'Liberation Sans', sans-serif">a</tspan><tspan x="591.7017" y="6.8875" style="font-size: 18.31375px; font-family: 'DejaVu Sans', 'Liberation Sans', sans-serif">0</tspan><tspan x="592.9111" y="-10.175" style="font-size: 18.31375px; font-family: 'DejaVu Sans', 'Liberation Sans', sans-serif">3</tspan></text>
</g>
</g>
<g id="line2d_27" transform="translate(0 2.4984)">
<path d="M 180.465 321.381625  L 206.6275 321.381625  L 232.79 321.381625  " style="fill: none; stroke: #e377c2; stroke-opacity: 0.5; stroke-width: 4.875; stroke-linecap: square" />
<g>
<path d="M 0 -9.75  L -2.189011 -3.012916  L -9.272801 -3.012916  L -3.541895 1.150831  L -5.730906 7.887916  L -0 3.724169  L 5.730906 7.887916  L 3.541895 1.150831  L 9.272801 -3.012916  L 2.189011 -3.012916  z " transform="translate(206.6275 321.381625)" style="fill: #e377c2; fill-opacity: 0.5; stroke: #e377c2; stroke-opacity: 0.5; stroke-width: 3.25; stroke-linejoin: bevel" /></g>
</g>
<g id="text_22" transform="translate(0 3.4212)">
<g transform="translate(253.72 330.5385)">
<text>
<tspan x="0.0000" y="-0.779688" style="font-size: 26.1625px; font-family: 'DejaVu Sans', 'Liberation Sans', sans-serif">Stewart and Newman (2008),</tspan><tspan x="385.7457" y="-10.732813" style="font-size: 18.31375px; font-family: 'DejaVu Sans', 'Liberation Sans', sans-serif">44</tspan><tspan x="409.7267" y="-0.779688" style="font-size: 26.1625px; font-family: 'DejaVu Sans', 'Liberation Sans', sans-serif"> [Experimental]</tspan></text>
</g>
</g>
</g>
</g>
</g>
<defs>
<clipPath id="p19d4a6a60d">
<rect x="150.6" y="14.85" width="947.4" height="922.95" />
</clipPath>
</defs>
</svg>
</body></html>
